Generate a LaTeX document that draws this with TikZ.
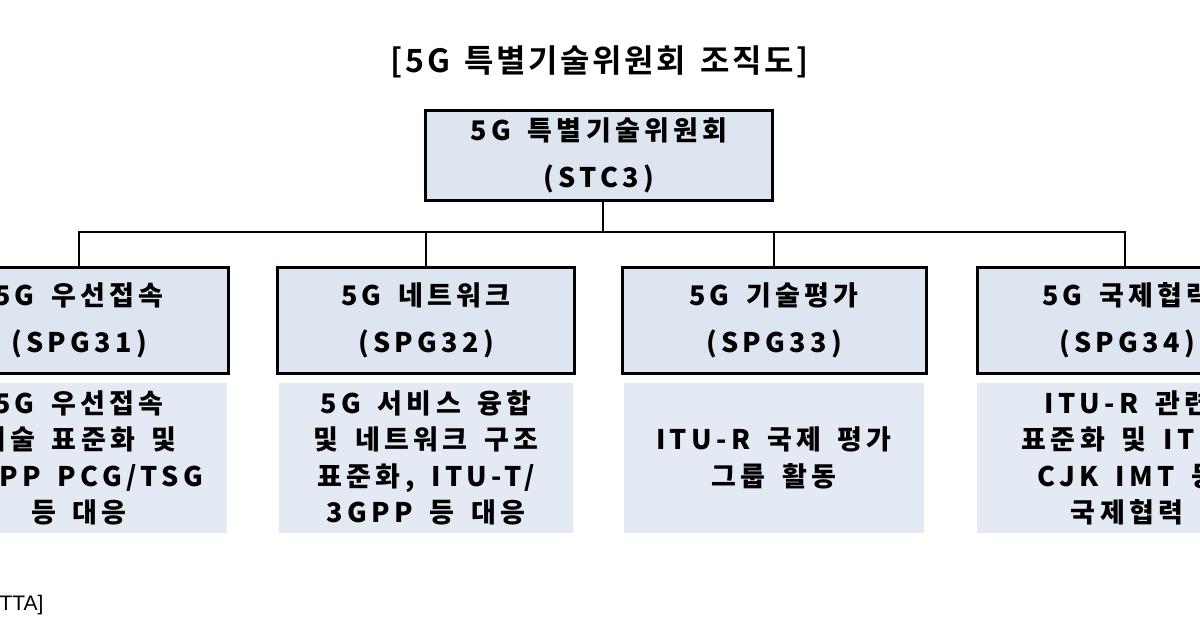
\documentclass[tikz,border=0pt]{standalone}
\usepackage{fontspec}
\setmainfont{Noto Sans CJK KR}[LetterSpace=16,WordSpace=1.6]
\newfontfamily\titlefont{Noto Sans CJK KR Bold}[LetterSpace=8,WordSpace=1.5]
\newfontfamily\plainfont{Liberation Sans}
\begin{document}
\begin{tikzpicture}[x=1pt,y=-1pt,
  org/.style={draw=black,line width=3pt,fill=boxblue,minimum width=#1,minimum height=106pt,inner sep=0pt},
  desc/.style={fill=descblue,minimum width=#1,minimum height=150pt,inner sep=0pt},
  lbl/.style={align=center,font=\fontsize{27}{47}\selectfont\bfseries},
  dlbl/.style={align=center,font=\fontsize{27}{36.5}\selectfont\bfseries},
  conn/.style={line width=2.5pt}]
\definecolor{boxblue}{HTML}{DCE5F0}
\definecolor{descblue}{HTML}{E3EAF3}
\useasboundingbox (0,0) rectangle (1200,630);
\clip (0,0) rectangle (1200,630);
\node[font=\titlefont\fontsize{32}{34}\selectfont] (title) at (600,62) {[5G 특별기술위원회 조직도]};
\node[org=347pt,minimum height=90pt] (top) at (599,155) {};
\node[lbl] (toplbl) at (top) {5G 특별기술위원회\\(STC3)};
\node[org=298pt] (b1) at (79,320) {};
\node[org=297pt] (b2) at (426,320) {};
\node[org=304pt] (b3) at (774,320) {};
\node[org=300pt] (b4) at (1127,320) {};
\node[lbl] (l1) at (b1) {5G 우선접속\\(SPG31)};
\node[lbl] (l2) at (b2) {5G 네트워크\\(SPG32)};
\node[lbl] (l3) at (b3) {5G 기술평가\\(SPG33)};
\node[lbl] (l4) at (b4) {5G 국제협력\\(SPG34)};
\node[desc=296pt] (d1) at (79,458) {};
\node[desc=294pt] (d2) at (426,458) {};
\node[desc=300pt] (d3) at (774,458) {};
\node[desc=300pt] (d4) at (1127,458) {};
\node[dlbl] at (d1) {5G 우선접속\\기술 표준화 및\\3GPP PCG/TSG\\등 대응};
\node[dlbl] at (d2) {5G 서비스 융합\\및 네트워크 구조\\표준화, ITU-T/\\3GPP 등 대응};
\node[dlbl] at (d3) {ITU-R 국제 평가\\그룹 활동};
\node[dlbl] at (d4) {ITU-R 관련\\표준화 및 ITU,\\CJK IMT 등\\국제협력};
\coordinate (j) at (603,232);
\coordinate (hl) at (79,232);
\coordinate (hr) at (1125,232);
\draw[conn] (top.south -| j) -- (j);
\draw[conn] (b1.north) |- (hl) -- (hr) -- (hr |- b4.north);
\draw[conn] (b2.north) -- (b2.north |- j);
\draw[conn] (b3.north) -- (b3.north |- j);
\node[anchor=east,font=\plainfont\fontsize{21}{22}\selectfont] (src) at (47,605) {[TTA]};
\end{tikzpicture}
\end{document}
